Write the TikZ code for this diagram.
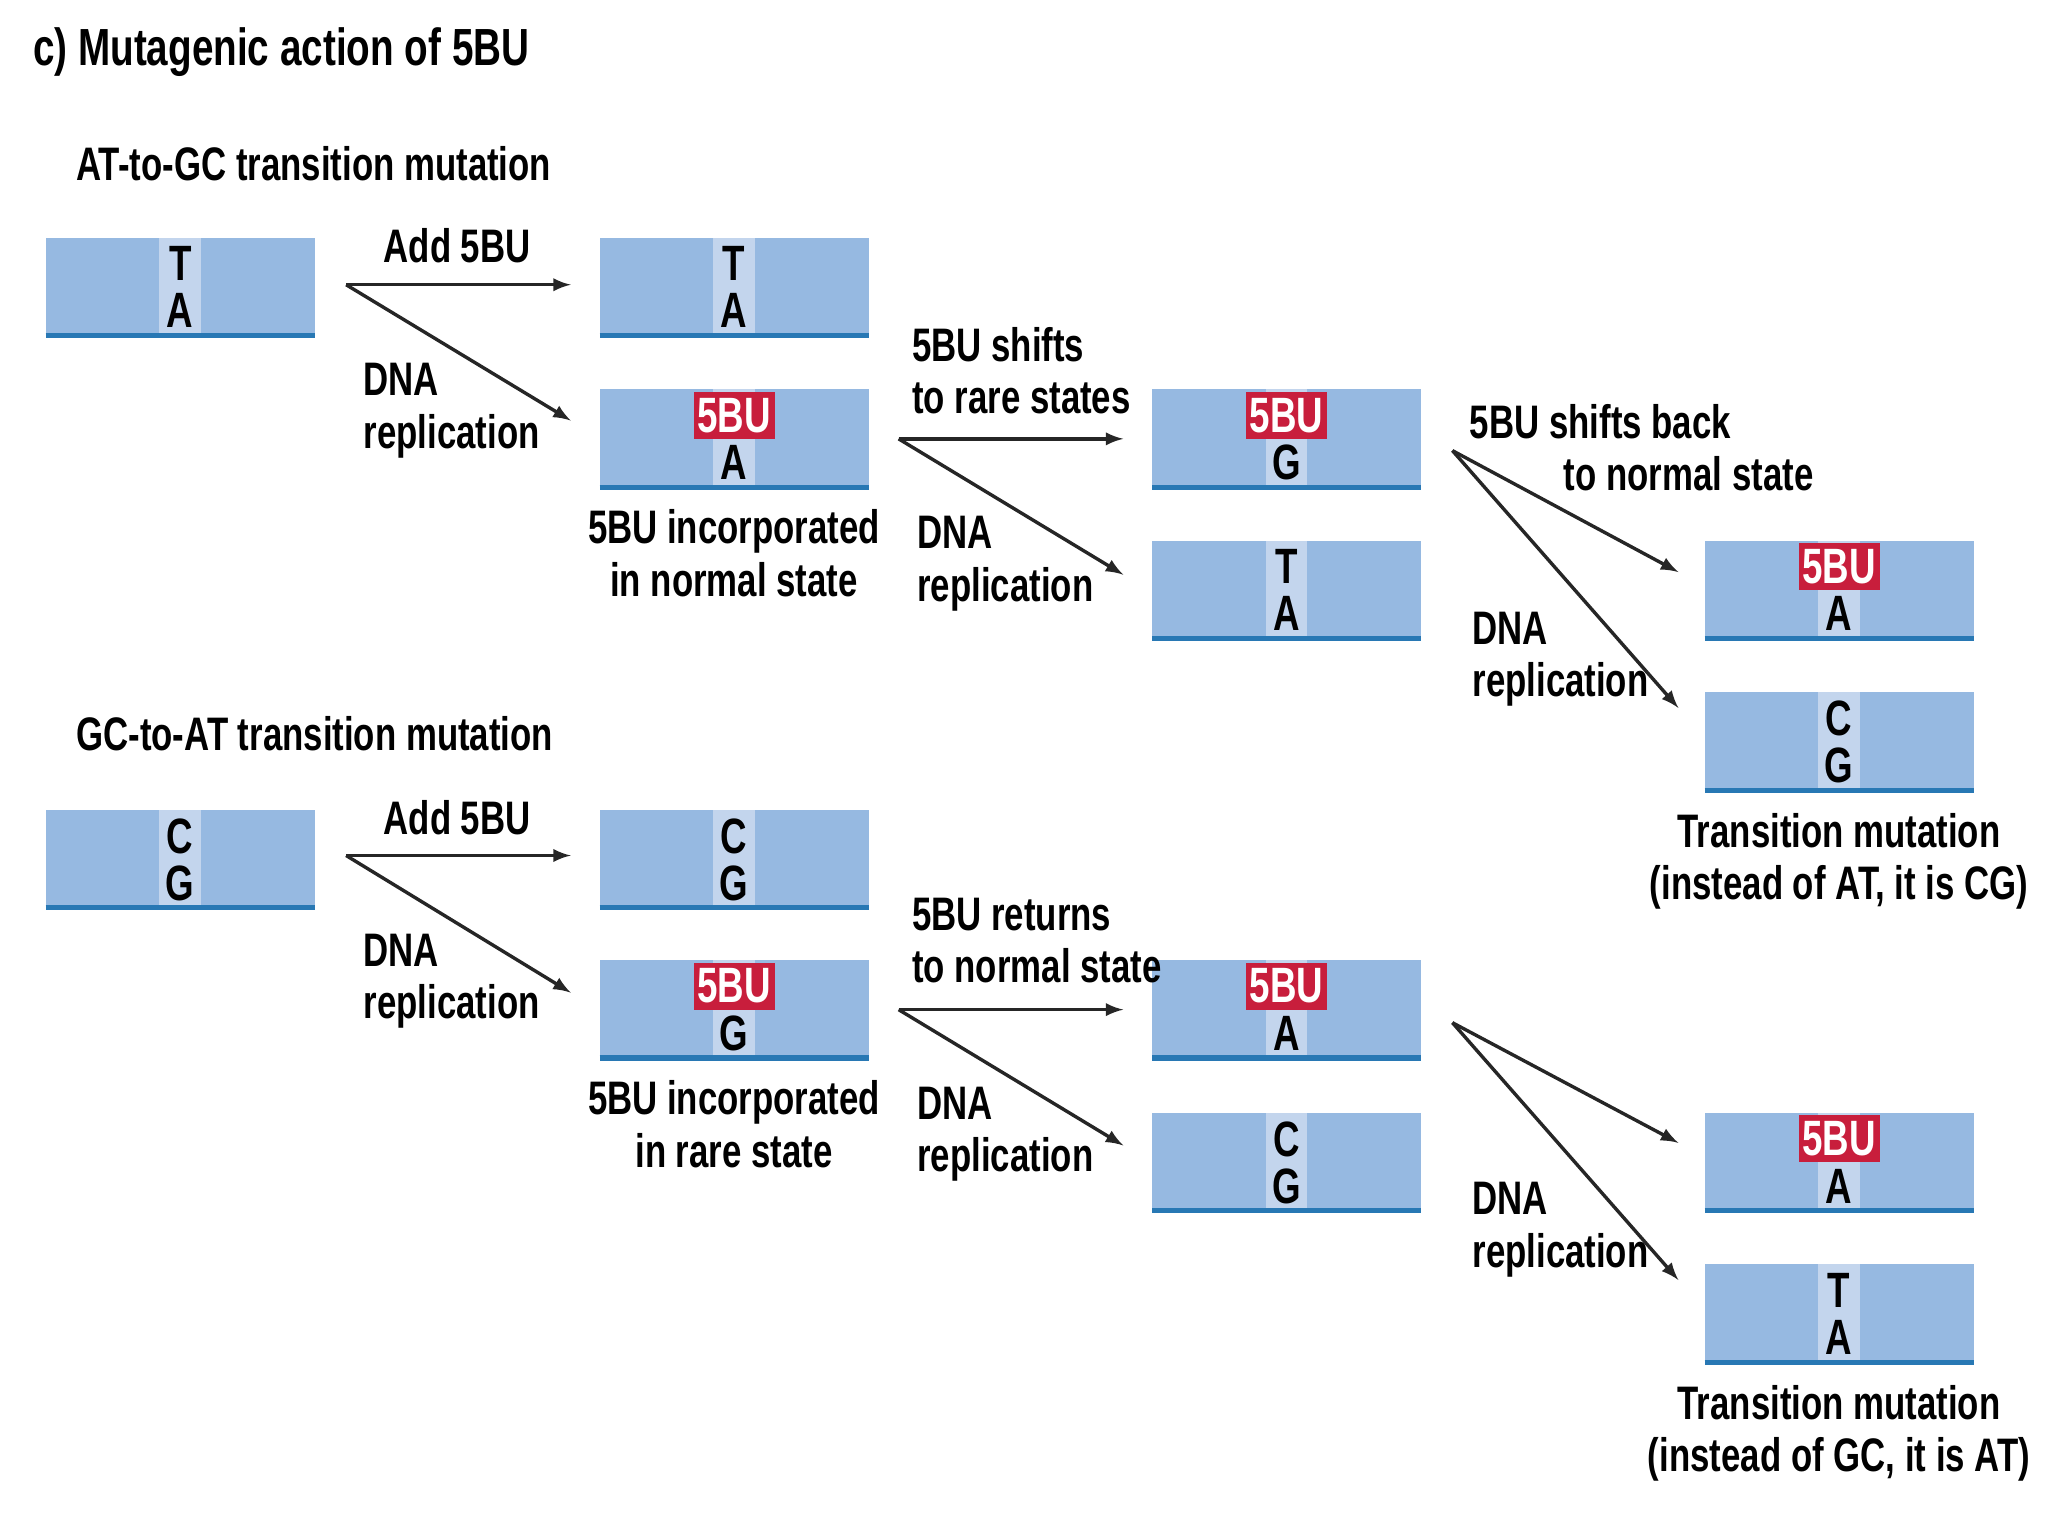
\documentclass[tikz,border=0pt]{standalone}
\usepackage{fontspec}
\setmainfont{Liberation Sans}[FakeStretch=0.74]
\definecolor{strandc}{RGB}{150,185,225}
\definecolor{colc}{RGB}{195,213,237}
\definecolor{buc}{RGB}{200,30,60}
\definecolor{linec}{RGB}{40,120,180}
\begin{document}
\begin{tikzpicture}[x=0.5pt,y=-0.5pt,
  txt/.style={font=\bfseries\fontsize{18}{20}\selectfont,inner sep=0pt,align=left},
  ctxt/.style={txt,align=center},
  lt/.style={inner sep=0pt,font=\bfseries\fontsize{19}{20}\selectfont},
  arr/.style={-latex,line width=1.3pt,black!85},
  strand/.style={fill=strandc,draw=none},
  col/.style={fill=colc,draw=none},
  bu/.style={fill=buc,draw=none},
  bline/.style={line width=2pt,draw=linec}]
\useasboundingbox (0,0) rectangle (1568,1176);
\newcommand\dnabox[5]{% name, cx, top, topletter, bottomletter
  \fill[strand] (#2-103,#3) rectangle (#2+103,#3+75);
  \fill[col] (#2-16,#3) rectangle (#2+16,#3+75);
  \draw[bline] (#2-103,#3+75) -- (#2+103,#3+75);
  \node[lt] (#1t) at (#2,#3+20) {#4};
  \node[lt] (#1b) at (#2,#3+56) {#5};
  \coordinate (#1) at (#2-103,#3+37);}
\newcommand\bubox[4]{% name, cx, top, bottomletter
  \fill[strand] (#2-103,#3) rectangle (#2+103,#3+75);
  \fill[col] (#2-16,#3) rectangle (#2+16,#3+75);
  \fill[bu] (#2-31,#3+2) rectangle (#2+31,#3+38);
  \draw[bline] (#2-103,#3+75) -- (#2+103,#3+75);
  \node[lt,white] (#1t) at (#2,#3+20) {5BU};
  \node[lt] (#1b) at (#2,#3+56) {#4};
  \coordinate (#1) at (#2-103,#3+37);}

\node[txt,font=\bfseries\fontsize{20}{24}\selectfont,anchor=west] (title) at (25,40) {c) Mutagenic action of 5BU};

% ---- top ----
\node[txt,anchor=west] (h1) at (58,125) {AT-to-GC transition mutation};
\dnabox{a1}{138}{182}{T}{A}
\dnabox{a2}{562}{182}{T}{A}
\bubox{a3}{562}{298}{A}
\bubox{a4}{985}{298}{G}
\dnabox{a5}{985}{414}{T}{A}
\bubox{a6}{1408}{414}{A}
\dnabox{a7}{1408}{530}{C}{G}
\coordinate (s1) at (265,218); \coordinate (e1) at (437,218); \coordinate (e2) at (437,322);
\draw[arr] (s1) -- (e1); \draw[arr] (s1) -- (e2);
\coordinate (s2) at (688,336); \coordinate (e3) at (860,336); \coordinate (e4) at (860,440);
\draw[arr] (s2) -- (e3); \draw[arr] (s2) -- (e4);
\coordinate (s3) at (1112,345); \coordinate (e5) at (1285,438); \coordinate (e6) at (1285,542);
\draw[arr] (s3) -- (e5); \draw[arr] (s3) -- (e6);
\node[ctxt] (l1) at (350,188) {Add 5BU};
\node[txt,anchor=north west] (l2) at (278,278) {DNA\\replication};
\node[ctxt,anchor=north] (l3) at (562,390) {5BU incorporated\\in normal state};
\node[txt,anchor=north west] (l4) at (698,250) {5BU shifts\\to rare states};
\node[txt,anchor=north west] (l5) at (702,395) {DNA\\replication};
\node[txt,anchor=west] (l6) at (1125,323) {5BU shifts back};
\node[txt,anchor=west] (l7) at (1197,363) {to normal state};
\node[txt,anchor=north west] (l8) at (1127,468) {DNA\\replication};
\node[ctxt,anchor=north] (l9) at (1408,622) {Transition mutation\\(instead of AT, it is CG)};

% ---- bottom ----
\node[txt,anchor=west] (h2) at (58,562) {GC-to-AT transition mutation};
\dnabox{b1}{138}{620}{C}{G}
\dnabox{b2}{562}{620}{C}{G}
\bubox{b3}{562}{735}{G}
\bubox{b4}{985}{735}{A}
\dnabox{b5}{985}{852}{C}{G}
\bubox{b6}{1408}{852}{A}
\dnabox{b7}{1408}{968}{T}{A}
\coordinate (t1) at (265,655); \coordinate (f1) at (437,655); \coordinate (f2) at (437,760);
\draw[arr] (t1) -- (f1); \draw[arr] (t1) -- (f2);
\coordinate (t2) at (688,773); \coordinate (f3) at (860,773); \coordinate (f4) at (860,877);
\draw[arr] (t2) -- (f3); \draw[arr] (t2) -- (f4);
\coordinate (t3) at (1112,783); \coordinate (f5) at (1285,875); \coordinate (f6) at (1285,980);
\draw[arr] (t3) -- (f5); \draw[arr] (t3) -- (f6);
\node[ctxt] (m1) at (350,626) {Add 5BU};
\node[txt,anchor=north west] (m2) at (278,715) {DNA\\replication};
\node[ctxt,anchor=north] (m3) at (562,827) {5BU incorporated\\in rare state};
\node[txt,anchor=north west] (m4) at (698,687) {5BU returns\\to normal state};
\node[txt,anchor=north west] (m5) at (702,832) {DNA\\replication};
\node[txt,anchor=north west] (m8) at (1127,905) {DNA\\replication};
\node[ctxt,anchor=north] (m9) at (1408,1060) {Transition mutation\\(instead of GC, it is AT)};
\end{tikzpicture}
\end{document}
